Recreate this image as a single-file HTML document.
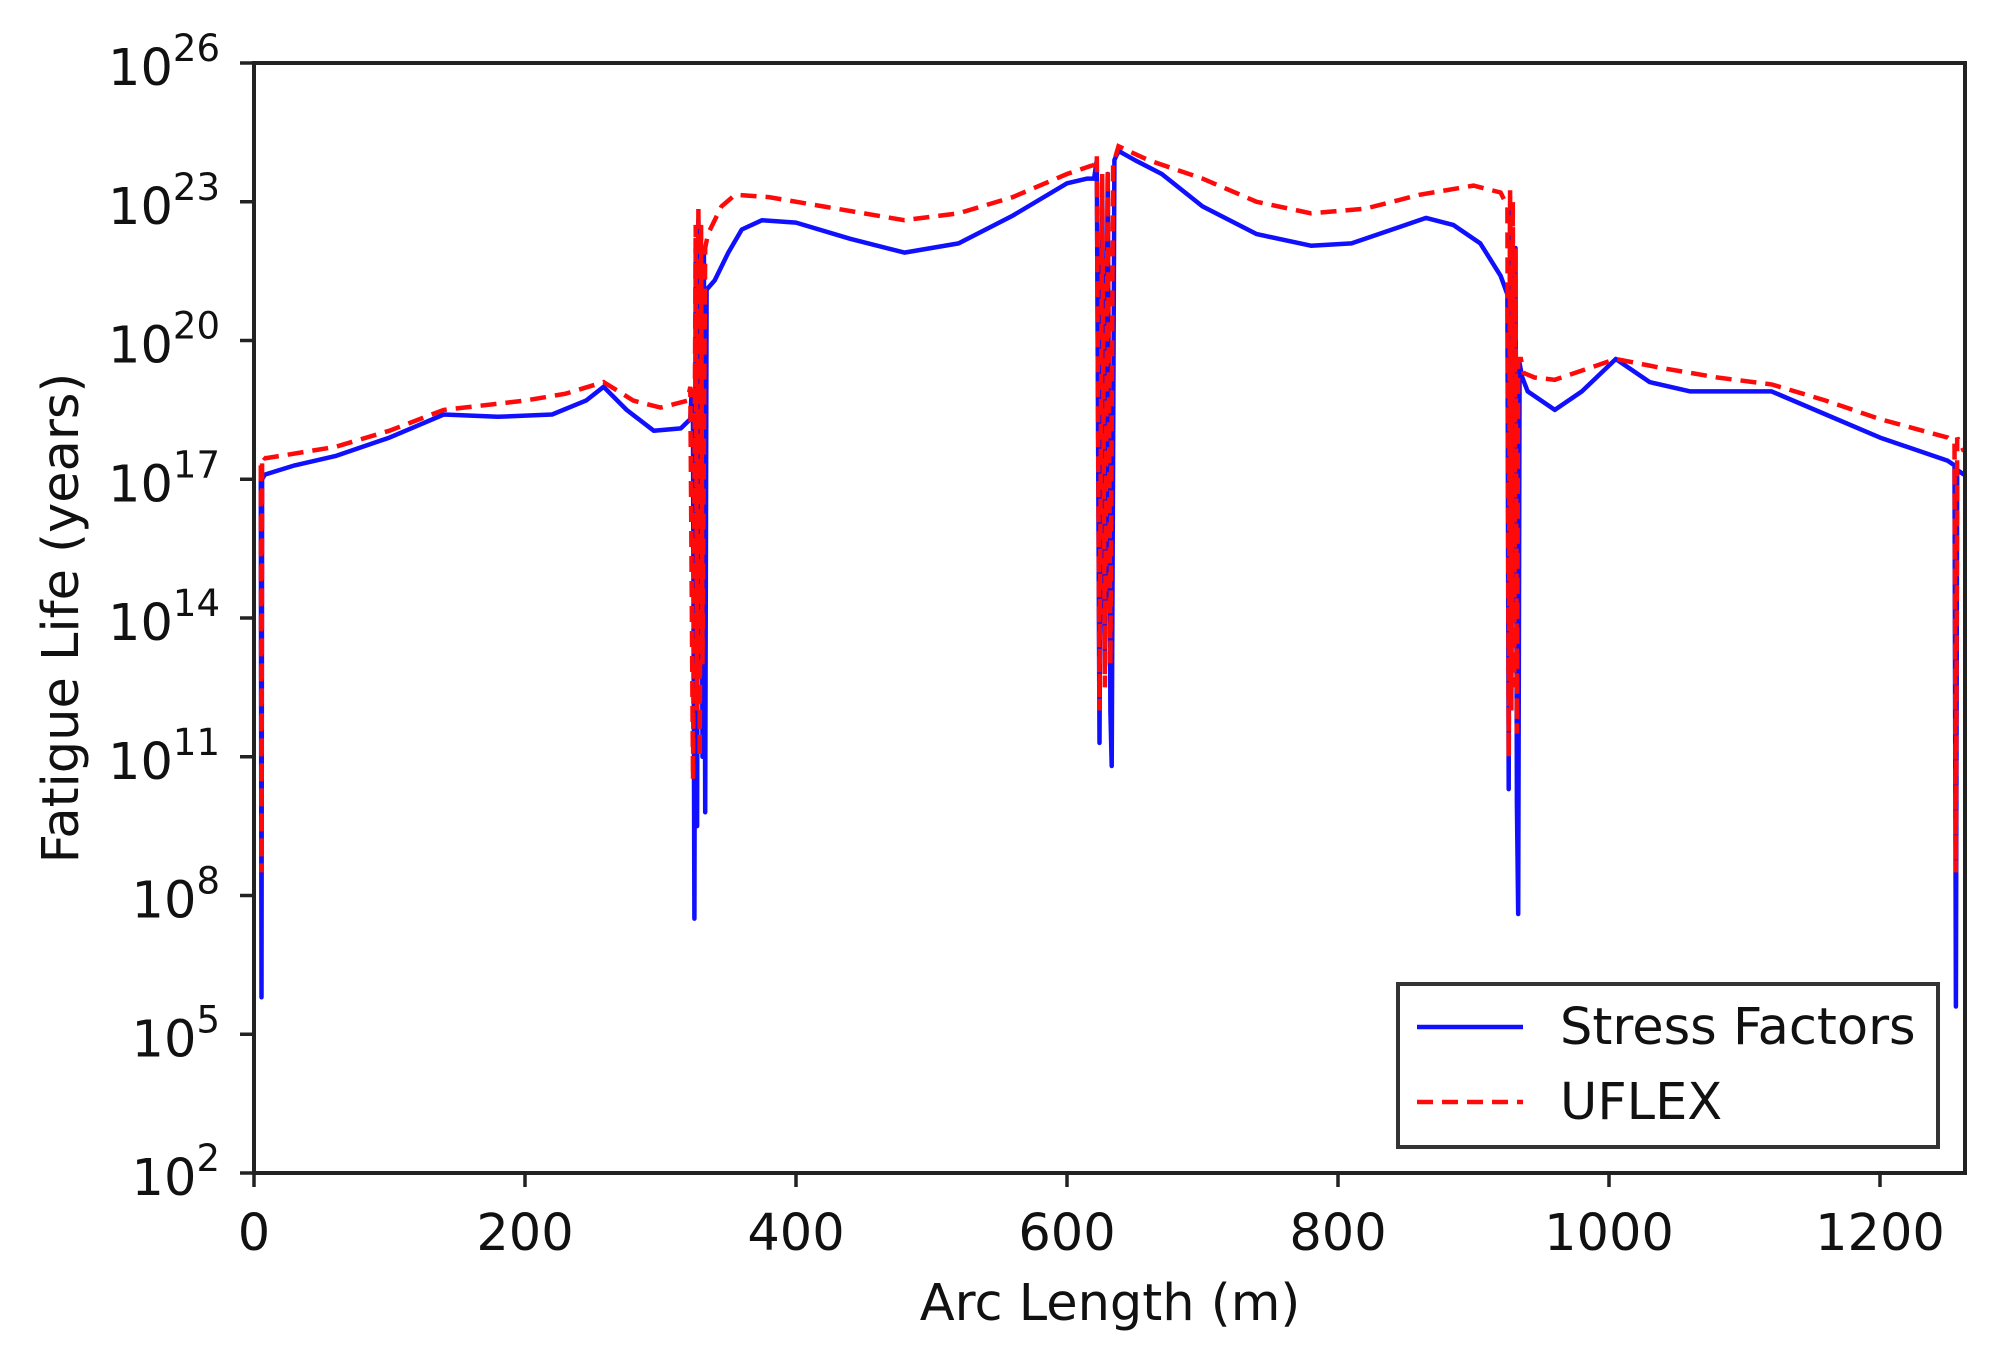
<!DOCTYPE html>
<html><head><meta charset="utf-8"><style>
html,body{margin:0;padding:0;background:#fff;}
svg text{font-family:"DejaVu Sans","Liberation Sans",sans-serif;fill:#111;}
</style></head><body>
<svg id="s" width="2006" height="1363" viewBox="0 0 2006 1363" xmlns="http://www.w3.org/2000/svg">
<defs><clipPath id="c"><rect x="254" y="63" width="1711" height="1110"/></clipPath></defs>
<rect width="2006" height="1363" fill="#fff"/>
<g id="ticks" stroke="#222" stroke-width="3.5"></g>
<g id="labels" font-size="51"></g>
<g clip-path="url(#c)">
<polyline id="blue" fill="none" stroke="#1010ff" stroke-width="4.5" stroke-linejoin="round"/>
<polyline id="red" fill="none" stroke="#ff0a0a" stroke-width="4.5" stroke-dasharray="16,9"/>
</g>
<rect x="254" y="63" width="1711" height="1110" fill="none" stroke="#222" stroke-width="4"/>
<rect x="1398" y="984" width="540" height="163" fill="#fff" stroke="#333" stroke-width="4"/>
<line x1="1417" y1="1027" x2="1523" y2="1027" stroke="#1010ff" stroke-width="4.5"/>
<line x1="1417" y1="1102" x2="1523" y2="1102" stroke="#ff0a0a" stroke-width="4.5" stroke-dasharray="16,9"/>
<text x="1560" y="1044" font-size="51">Stress Factors</text>
<text x="1560" y="1119" font-size="51">UFLEX</text>
<text x="1110" y="1320" font-size="51" text-anchor="middle">Arc Length (m)</text>
<text transform="translate(78,618) rotate(-90)" font-size="51" text-anchor="middle">Fatigue Life (years)</text>
</svg>
<script>
const X=m=>254+1.355*m, Y=e=>63+(26-e)*46.25;
const B=[[5,17.0],[5.5,5.8],[6,17.0],[8,17.1],[30,17.3],[60,17.5],[100,17.9],[120,18.15],[140,18.4],[180,18.35],[220,18.4],[245,18.7],[258,19.0],[275,18.5],[295,18.05],[315,18.1],[322,18.3],[323,18.9],[324,18.2],[325,7.5],[326,22.0],[327,9.5],[328,22.6],[329,13],[330,22],[331,11],[332,22],[333,9.8],[334,21.1],[340,21.3],[350,21.9],[360,22.4],[375,22.6],[400,22.55],[440,22.2],[480,21.9],[520,22.1],[560,22.7],[600,23.4],[615,23.5],[620,23.5],[622,23.9],[624,11.3],[626,23.5],[628,13],[630,23.6],[632,12],[633,10.8],[635,23.9],[638,24.1],[650,23.9],[670,23.6],[700,22.9],[740,22.3],[780,22.05],[810,22.1],[840,22.4],[865,22.65],[885,22.5],[905,22.1],[920,21.4],[925,21.0],[926,10.3],[927,22.8],[928,13],[929,22],[930,14],[931,22],[932,10],[933,7.6],[934,19.5],[936,19.2],[940,18.9],[960,18.5],[980,18.9],[1005,19.6],[1030,19.1],[1060,18.9],[1120,18.9],[1160,18.4],[1200,17.9],[1250,17.4],[1255,17.3],[1256,5.6],[1257,17.2],[1262,17.1]];
const R=[[5,17.3],[5.5,8.5],[6,17.5],[8,17.45],[60,17.7],[100,18.05],[140,18.5],[200,18.7],[230,18.85],[258,19.1],[280,18.7],[300,18.55],[320,18.7],[322,19.0],[324,10.5],[326,22.5],[327,12],[328,22.9],[329,11],[330,22.5],[331,13],[333,22],[335,22.3],[345,22.9],[355,23.15],[380,23.1],[420,22.9],[480,22.6],[520,22.75],[560,23.1],[600,23.6],[620,23.8],[622,24.0],[624,12],[626,23.6],[628,12.5],[630,23.7],[632,13],[634,23.8],[638,24.2],[660,23.9],[700,23.5],[740,23.0],[780,22.75],[820,22.85],[860,23.15],[900,23.35],[920,23.2],[925,22.9],[926,11],[927,23.3],[928,12],[929,23],[930,12.5],[931,22],[932,11.5],[933,19.6],[935,19.6],[937,19.3],[945,19.2],[960,19.15],[1005,19.6],[1040,19.4],[1080,19.2],[1120,19.05],[1160,18.7],[1200,18.3],[1250,17.9],[1255,17.8],[1256,8.5],[1257,17.9],[1262,17.6]];
const f=a=>a.map(p=>X(p[0]).toFixed(1)+','+Y(p[1]).toFixed(1)).join(' ');
document.getElementById('blue').setAttribute('points',f(B));
document.getElementById('red').setAttribute('points',f(R));
const NS='http://www.w3.org/2000/svg',t=document.getElementById('ticks'),L=document.getElementById('labels');
function el(tag,at,txt,par){const e=document.createElementNS(NS,tag);for(const k in at)e.setAttribute(k,at[k]);if(txt!=null)e.textContent=txt;par.appendChild(e);return e;}
for(let m=0;m<=1200;m+=200){const x=X(m);el('line',{x1:x,y1:1173,x2:x,y2:1187},null,t);el('text',{x:x,y:1250,'text-anchor':'middle'},String(m),L);}
for(let e=2;e<=26;e+=3){const y=Y(e);el('line',{x1:240,y1:y,x2:254,y2:y},null,t);
const tx=el('text',{x:220,y:y+22,'text-anchor':'end'},null,L);
el('tspan',{},'10',tx);el('tspan',{'font-size':'37',dy:'-24'},String(e),tx);}
</script>
</body></html>
